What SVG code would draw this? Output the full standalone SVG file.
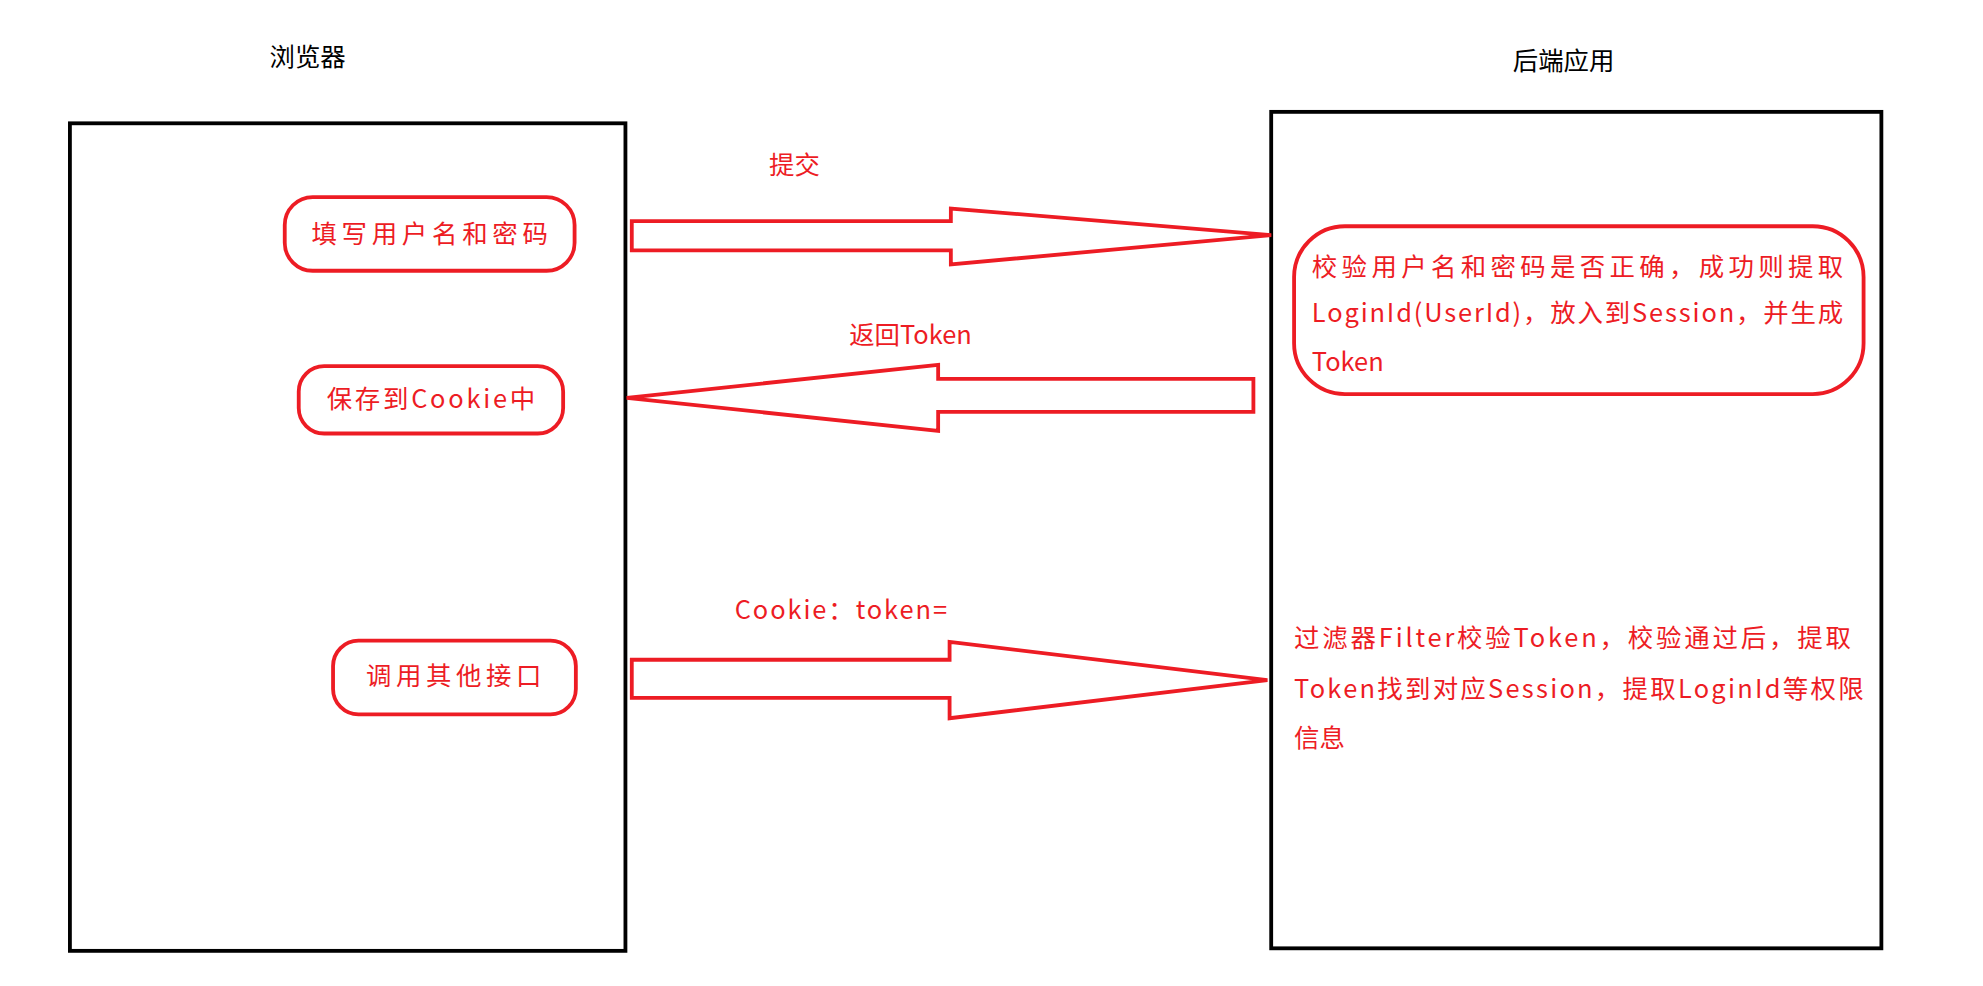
<svg xmlns="http://www.w3.org/2000/svg" width="1983" height="986" viewBox="0 0 1983 986">
<style>
.box{fill:none;stroke:#000;stroke-width:3}
.rr{fill:none;stroke:#ed1c24;stroke-width:3}
.ar{fill:#fff;stroke:#ed1c24;stroke-width:3;stroke-linejoin:miter}
text{font-family:"Noto Sans CJK SC","Noto Sans",sans-serif;font-size:20px}
.r{fill:#ed1c24}
.k{fill:#000}
</style>
<rect width="1983" height="986" fill="#fff"/>
<g transform="scale(1.2712)">
<g id="browser"><rect class="box" x="55" y="97" width="437" height="651"/><text class="k" x="242" y="52" text-anchor="middle">浏览器</text></g>
<g id="backend"><rect class="box" x="1000" y="88" width="480" height="658"/><text class="k" x="1230" y="55" text-anchor="middle">后端应用</text></g>
<g id="n1"><rect class="rr" x="224" y="155" width="228" height="58" rx="22"/><text class="r" x="338" y="191" text-anchor="middle" textLength="186">填写用户名和密码</text></g>
<g id="n2"><rect class="rr" x="235" y="288" width="208" height="53" rx="20"/><text class="r" x="339" y="321" text-anchor="middle" textLength="164">保存到Cookie中</text></g>
<g id="n3"><rect class="rr" x="262" y="504" width="191" height="58" rx="20"/><text class="r" x="357" y="539" text-anchor="middle" textLength="138">调用其他接口</text></g>
<g id="n4"><rect class="rr" x="1018" y="178" width="448" height="132" rx="40"/>
<text class="r" x="1032" y="217" textLength="418">校验用户名和密码是否正确，成功则提取</text>
<text class="r" x="1032" y="253" textLength="418">LoginId(UserId)，放入到Session，并生成</text>
<text class="r" x="1032" y="292">Token</text></g>
<g id="n5">
<text class="r" x="1018" y="509" textLength="438">过滤器Filter校验Token，校验通过后，提取</text>
<text class="r" x="1018" y="549" textLength="448">Token找到对应Session，提取LoginId等权限</text>
<text class="r" x="1018" y="588">信息</text></g>
<g id="connectors">
<polygon class="ar" points="497,174 748,174 748,164 1000,185 748,208 748,197 497,197"/>
<polygon class="ar" points="986,298 738,298 738,287 493,313 738,339 738,324 986,324"/>
<polygon class="ar" points="497,519 747,519 747,505 997,535 747,565 747,549 497,549"/>
<text class="r" x="605" y="137">提交</text>
<text class="r" x="668" y="271">返回Token</text>
<text class="r" x="578" y="487" textLength="167">Cookie：token=</text>
</g>
</g>
</svg>
